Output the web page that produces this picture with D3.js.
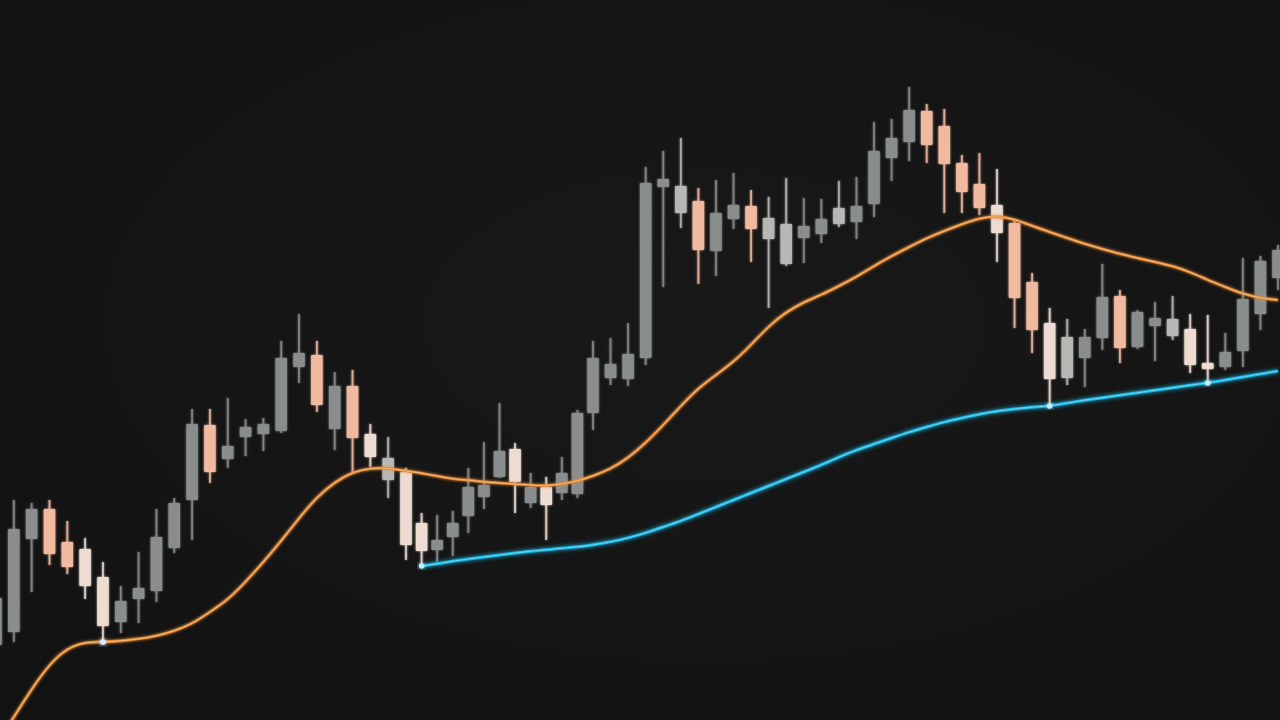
<!DOCTYPE html>
<html>
<head>
<meta charset="utf-8">
<script src="https://cdn.jsdelivr.net/npm/d3@7"></script>
<style>
html,body{margin:0;padding:0;background:#141414;overflow:hidden;}
svg{display:block;}
</style>
</head>
<body>
<svg id="chart" width="1280" height="720"></svg>
<script>
// ---- data (price units) ----
const bars = [0,1,2,3,4,5,6,7,8,9,10,11,12,13,14,15,16,17,18,19,20,21,22,23,24,25,26,27,28,29,30,31,32,33,34,35,36,37,38,39,40,41,42,43,44,45,46,47,48,49,50,51,52,53,54,55,56,57,58,59,60,61,62,63,64,65,66,67,68,69,70,71,72,73,74];
const opens = [118.75,122,145.25,152.75,144.5,142.75,135.75,124.5,130.25,132.25,143,155,173.75,165.25,170.75,171.5,172.25,188.25,191.25,172.75,183.5,171.5,160,162,149.25,142.5,145.75,151,155.75,160.75,167.75,154.25,158.25,156.75,156.5,176.75,185.5,185.25,190.5,233.25,226.75,229.75,217.25,225.25,228.5,220.25,214,220.5,221.5,224,224.5,229,240.5,244.5,252.25,248.5,239.25,234,228.75,224.25,209.5,199.25,185.5,190.5,195.5,206,193.25,198.5,196,197.75,189.25,188.25,192.25,201.5,210.5];
const closes = [130.5,147.75,152.75,141.5,138.25,133.5,123.5,129.75,133,145.75,154.25,174,162,168.5,173.25,174,190.5,191.75,178.75,183.5,170.5,165.75,165.5,143.75,142.25,145,149.25,158.25,158.75,167.25,159.5,158.25,153.75,161.75,176.75,190.5,189,191.5,234.25,235.25,233.5,217.5,226.75,228.75,222.75,225.5,224,223.5,225.25,228,228.5,242.25,245.5,252.5,243.75,239,232,228,221.75,205.5,197.5,185.25,195.75,195.75,205.75,193,202,200.5,200.25,188.75,187.75,192,205.25,214.75,217.5];
const highs = [132.5,155,154.25,155,149.75,145.5,139.5,133.5,142,152.75,155.5,177.75,177.75,180.5,175.25,175.5,194.75,201.5,194.75,187,187.5,174,170.75,163,151.75,151.25,152.25,163,169.5,179.25,169.25,161.75,160.75,165.75,177.5,194.75,195.5,199.25,238.25,242.25,245.5,233,235,236.75,232.5,230.75,235.5,230.5,230.25,234.75,235.75,249.5,250.25,258.25,254,252.75,241.25,241.75,237.75,225,211.75,203,200.25,197.75,214,207.5,202.5,204.5,206,201.5,201.25,196.75,215.5,216,218.75];
const lows = [115,119.5,132,138.75,136.5,130.25,120,121.75,124.25,129.5,141.75,145,159.25,163,166,167.25,171.75,184.25,177,167.5,162,163.25,155.5,140,138.5,139.5,141,146.75,152.75,160.5,151.75,153,145,155,155.5,172.5,183.75,183.5,188.75,208.25,223,209,211,222.75,214.5,203,213.5,214.25,219.25,223.25,220.25,225.75,234.75,239.75,239.25,226.75,226.75,226.25,214.5,198,191.75,178.5,183.75,183.25,192.5,189.25,192.75,189.75,195,186.75,184.25,187.5,188.25,197.5,207.5];
// anchored average (orange) and rising support (cyan), one value per bar (null = not defined)
const orangeLine = [93.75,100.75,107.75,114,118,119.5,119.5,119.75,120.25,121,122.25,124,127,130,134.5,139.5,144.75,150.5,155.75,159.5,162,163,163,162.25,161.75,161,160.25,160,159.5,159.25,159,158.75,158.5,159,159.75,161,162.75,165.5,169.25,173.75,178.5,183,186.25,189.5,193.75,198.5,202,204.5,206.25,208.5,210.75,213.5,216,218.25,220.5,222.25,224,225.5,226,225.25,223.5,222,220.5,219,217.75,216.5,215.5,214.5,213.5,212,210,208.25,206.5,205.5,205];
const cyanLine = [null,null,null,null,null,null,null,null,null,null,null,null,null,null,null,null,null,null,null,null,null,null,null,null,138.5,139,139.75,140.25,140.75,141.25,141.75,142.25,142.5,143,143.25,143.75,144.5,145.5,146.75,148.25,149.75,151.5,153.25,155,156.75,158.5,160.25,162,163.75,165.75,167.5,169,170.5,172,173.25,174.5,175.5,176.5,177.25,177.75,178.25,178.5,179.25,180,180.5,181.25,181.75,182.5,183,183.75,184.25,185,185.75,186.5,187.25];
// bars where price touched an indicator (drawn in a lighter tone)
const touchBars = [5,6,21,22,23,24,30,32,40,45,46,49,58,61,62,68,69,70];
// pivot markers
const orangePivots = [6];
const cyanPivots = [24,61,70];

// ---- layout ----
const W = 1280, H = 720;
const svg = d3.select('#chart');
const x = d3.scaleLinear().domain([0, 23, 35, 74]).range([-4, 406, 593, 1278]);
const y = d3.scaleLinear().domain([100, 280]).range([720, 0]);
const bodyW = 11.5;

const defs = svg.append('defs');
const bg = defs.append('radialGradient').attr('id','bg').attr('cx','55%').attr('cy','45%').attr('r','75%');
bg.append('stop').attr('offset','0%').attr('stop-color','#181818');
bg.append('stop').attr('offset','100%').attr('stop-color','#121212');
function glow(id, sd){
  const f = defs.append('filter').attr('id', id).attr('x','-20%').attr('y','-20%').attr('width','140%').attr('height','140%');
  f.append('feGaussianBlur').attr('in','SourceGraphic').attr('stdDeviation', sd).attr('result','b');
  const m = f.append('feMerge');
  m.append('feMergeNode').attr('in','b');
  m.append('feMergeNode').attr('in','SourceGraphic');
}
glow('glowO', 1.4); glow('glowC', 2.2); glow('glowDot', 3); glow('glowBar', 1.2);

svg.append('rect').attr('width', W).attr('height', H).attr('fill', 'url(#bg)');

const peach = '#f0b9a0', white = '#ece7e3', gray = '#8a8d8d', lightGray = '#b7b8b5';
function colorOf(i){
  const up = closes[i] >= opens[i];
  const touch = touchBars.includes(i);
  if (up) return touch ? lightGray : gray;
  return touch ? d3.interpolateRgb(peach, white)(0.75) : peach;
}

const gBars = svg.append('g').attr('filter','url(#glowBar)');
const candles = gBars.selectAll('g.c').data(bars).join('g').attr('class','c');
candles.append('line')
  .attr('x1', i => x(i)).attr('x2', i => x(i))
  .attr('y1', i => y(highs[i])).attr('y2', i => y(lows[i]))
  .attr('stroke', i => colorOf(i)).attr('stroke-width', 1.8).attr('stroke-opacity', 0.85);
candles.append('rect')
  .attr('x', i => x(i) - bodyW/2)
  .attr('width', bodyW)
  .attr('y', i => y(Math.max(opens[i], closes[i])))
  .attr('height', i => Math.max(2, Math.abs(y(opens[i]) - y(closes[i]))))
  .attr('rx', 1)
  .attr('fill', i => colorOf(i));

// lines
const line = d3.line()
  .defined(d => d.v !== null)
  .x(d => x(d.i)).y(d => y(d.v))
  .curve(d3.curveBasis);
const oData = bars.map(i => ({i, v: orangeLine[i]}));
const cData = bars.map(i => ({i, v: cyanLine[i]}));

svg.append('path').datum(oData).attr('d', line)
  .attr('fill','none').attr('stroke','#e0893a').attr('stroke-width', 2.6).attr('filter','url(#glowO)');
svg.append('path').datum(oData).attr('d', line)
  .attr('fill','none').attr('stroke','#f7b870').attr('stroke-width', 1);

svg.append('path').datum(cData).attr('d', line)
  .attr('fill','none').attr('stroke','#1cb4e0').attr('stroke-width', 3).attr('filter','url(#glowC)');
svg.append('path').datum(cData).attr('d', line)
  .attr('fill','none').attr('stroke','#5fd3f2').attr('stroke-width', 1.1);

// pivot dots
const dots = svg.append('g');
dots.selectAll('circle.o').data(orangePivots).join('circle')
  .attr('cx', i => x(i)).attr('cy', i => y(orangeLine[i])).attr('r', 3)
  .attr('fill', '#cfefff').attr('filter','url(#glowDot)');
dots.selectAll('circle.c').data(cyanPivots).join('circle')
  .attr('cx', i => x(i)).attr('cy', i => y(cyanLine[i])).attr('r', 2.8)
  .attr('fill', '#bff0ff').attr('filter','url(#glowDot)');
</script>
</body>
</html>
